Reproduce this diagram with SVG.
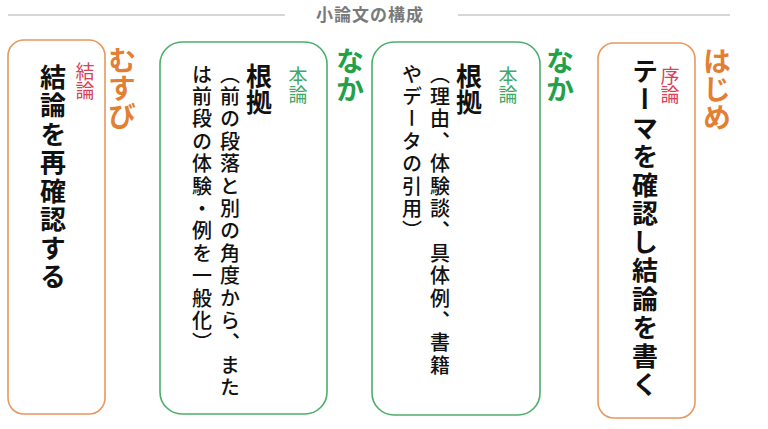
<svg xmlns="http://www.w3.org/2000/svg" width="768" height="429" viewBox="0 0 768 429">
<style>
text{font-family:"Noto Sans CJK JP","Noto Sans",sans-serif;}
.v{writing-mode:vertical-rl;text-orientation:mixed;}
.box-o{fill:#fff;stroke:#E8985E;stroke-width:1.6;}
.box-g{fill:#fff;stroke:#4DAE6C;stroke-width:1.6;}
.head-o{fill:#E37F33;font-size:28px;font-weight:700;}
.head-g{fill:#22A149;font-size:28px;font-weight:700;}
.sub-r{fill:#D6435A;font-size:19px;}
.sub-g{fill:#3FA868;font-size:19px;}
.main{fill:#111;font-size:26px;font-weight:700;letter-spacing:2.5px;}
.key{fill:#111;font-size:26px;font-weight:700;}
.col{fill:#111;font-size:20px;font-weight:500;letter-spacing:2.4px;}
.rule{stroke:#C8C8C8;stroke-width:1.5;}
</style>
<rect width="768" height="429" fill="#fff"/>
<g id="title">
<line class="rule" x1="8" y1="15" x2="285" y2="15"/>
<line class="rule" x1="458" y1="15" x2="730" y2="15"/>
<text x="370" y="21" text-anchor="middle" font-size="17" font-weight="700" fill="#7A7A7A" letter-spacing="1">小論文の構成</text>
</g>
<g id="hajime">
<rect class="box-o" x="598" y="43" width="97" height="375" rx="16"/>
<text class="v head-o" x="717" y="47">はじめ</text>
<text class="v sub-r" x="670" y="66">序論</text>
<text class="v main" x="645" y="58">テーマを確認し結論を書く</text>
</g>
<g id="naka1">
<rect class="box-g" x="372" y="42" width="168" height="373" rx="22"/>
<text class="v head-g" x="560" y="47">なか</text>
<text class="v sub-g" x="508" y="66">本論</text>
<text class="v key" x="469" y="63">根拠</text>
<text class="v col" x="440" y="64">（理由、体験談、具体例、書籍</text>
<text class="v col" x="412" y="64">やデータの引用）</text>
</g>
<g id="naka2">
<rect class="box-g" x="160" y="42" width="167" height="372" rx="22"/>
<text class="v head-g" x="350" y="47">なか</text>
<text class="v sub-g" x="298" y="66">本論</text>
<text class="v key" x="259" y="63">根拠</text>
<text class="v col" x="230" y="64">（前の段落と別の角度から、また</text>
<text class="v col" x="202" y="64">は前段の体験・例を一般化）</text>
</g>
<g id="musubi">
<rect class="box-o" x="8" y="40" width="97" height="374" rx="16"/>
<text class="v head-o" x="122" y="46">むすび</text>
<text class="v sub-r" x="85" y="62">結論</text>
<text class="v main" x="53" y="64">結論を再確認する</text>
</g>
<g id="connectors"></g>
</svg>
